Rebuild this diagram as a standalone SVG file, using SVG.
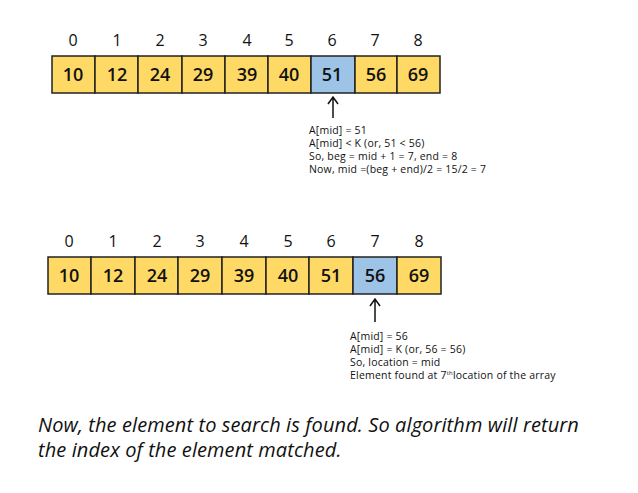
<svg xmlns="http://www.w3.org/2000/svg" width="638" height="493" viewBox="0 0 638 493">
<style>
.c{stroke:#222;stroke-width:1.5}
.y{fill:#FFD966}.b{fill:#9DC3E6}
.n{font-family:"Open Sans",sans-serif;font-size:18px;fill:#111;text-anchor:middle;font-weight:600}
.i{font-family:"Open Sans",sans-serif;font-size:16px;fill:#111;text-anchor:middle}
.t{font-family:"Open Sans",sans-serif;font-size:10.5px;letter-spacing:0.2px;fill:#111}
.f{font-family:"Open Sans",sans-serif;font-size:20px;font-style:italic;fill:#111;letter-spacing:0.1px}
.a{stroke:#111;stroke-width:1.5;fill:none}
</style>
<rect width="638" height="493" fill="#fff"/>
<g id="array1">
<rect class="c y" x="52" y="56" width="43" height="37"/><rect class="c y" x="95" y="56" width="43" height="37"/><rect class="c y" x="138" y="56" width="44" height="37"/><rect class="c y" x="182" y="56" width="43" height="37"/><rect class="c y" x="225" y="56" width="43" height="37"/><rect class="c y" x="268" y="56" width="43" height="37"/><rect class="c b" x="311" y="56" width="44" height="37"/><rect class="c y" x="355" y="56" width="42" height="37"/><rect class="c y" x="397" y="56" width="43" height="37"/>
<text class="i" y="46"><tspan x="73">0</tspan><tspan x="117">1</tspan><tspan x="160">2</tspan><tspan x="203">3</tspan><tspan x="247">4</tspan><tspan x="289">5</tspan><tspan x="332">6</tspan><tspan x="375">7</tspan><tspan x="418">8</tspan></text>
<text class="n" y="81"><tspan x="73">10</tspan><tspan x="117">12</tspan><tspan x="160">24</tspan><tspan x="203">29</tspan><tspan x="247">39</tspan><tspan x="289">40</tspan><tspan x="332">51</tspan><tspan x="376">56</tspan><tspan x="418">69</tspan></text>
</g>
<g id="array2">
<rect class="c y" x="48" y="257" width="43" height="37"/><rect class="c y" x="91" y="257" width="44" height="37"/><rect class="c y" x="135" y="257" width="43" height="37"/><rect class="c y" x="178" y="257" width="44" height="37"/><rect class="c y" x="222" y="257" width="44" height="37"/><rect class="c y" x="266" y="257" width="43" height="37"/><rect class="c y" x="309" y="257" width="44" height="37"/><rect class="c b" x="353" y="257" width="44" height="37"/><rect class="c y" x="397" y="257" width="44" height="37"/>
<text class="i" y="247"><tspan x="69">0</tspan><tspan x="113">1</tspan><tspan x="157">2</tspan><tspan x="200">3</tspan><tspan x="244">4</tspan><tspan x="288">5</tspan><tspan x="331">6</tspan><tspan x="375">7</tspan><tspan x="419">8</tspan></text>
<text class="n" y="282"><tspan x="69">10</tspan><tspan x="113">12</tspan><tspan x="157">24</tspan><tspan x="200">29</tspan><tspan x="244">39</tspan><tspan x="288">40</tspan><tspan x="331">51</tspan><tspan x="375">56</tspan><tspan x="419">69</tspan></text>
</g>
<g id="connectors">
<path class="a" d="M333 118V98M328 104L333 97L338 104"/>
<path class="a" d="M375 322V300M370 306L375 299L380 306"/>
</g>
<g id="note1"><text class="t"><tspan x="309" y="134">A[mid] = 51</tspan><tspan x="309" y="147">A[mid] &lt; K (or, 51 &lt; 56)</tspan><tspan x="309" y="160">So, beg = mid + 1 = 7, end = 8</tspan><tspan x="309" y="173">Now, mid =(beg + end)/2 = 15/2 = 7</tspan></text></g>
<g id="note2"><text class="t"><tspan x="350" y="340">A[mid] = 56</tspan><tspan x="350" y="353">A[mid] = K (or, 56 = 56)</tspan><tspan x="350" y="366">So, location = mid</tspan><tspan x="350" y="379">Element found at 7<tspan font-size="6" dy="-4">th</tspan><tspan dy="4">location of the array</tspan></tspan></text></g>
<g id="caption"><text class="f"><tspan x="38" y="432">Now, the element to search is found. So algorithm will return</tspan><tspan x="38" y="457">the index of the element matched.</tspan></text></g>
</svg>
